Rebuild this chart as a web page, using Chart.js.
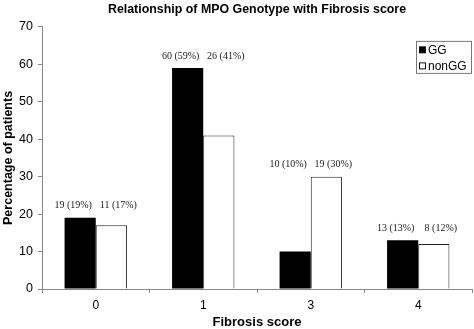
<!DOCTYPE html>
<html>
<head>
<meta charset="utf-8">
<script src="https://cdn.jsdelivr.net/npm/chart.js@4.4.1/dist/chart.umd.min.js"></script>
<style>
  html, body { margin: 0; padding: 0; background: #fff; }
  #wrap { width: 474px; height: 329px; }
</style>
</head>
<body>
<div id="wrap"><canvas id="fibrosisChart"></canvas></div>
<script>
let scores = ['0', '1', '3', '4']
let ggPct = [19, 59, 10, 13]
let nonGgPct = [17, 41, 30, 12]
let ggCount = [19, 60, 10, 13]
let nonGgCount = [11, 26, 19, 8]
let yTicks = [0, 10, 20, 30, 40, 50, 60, 70]

let sans = "'Liberation Sans', Arial, sans-serif"
let serif = "'Liberation Serif', 'Times New Roman', serif"

// count (percent) text over each pair of bars
let barLabels = {
    id: 'barLabels',
    afterDatasetsDraw(chart) {
        let ctx = chart.ctx
        let y = chart.scales.y
        let gg = chart.getDatasetMeta(0).data
        let non = chart.getDatasetMeta(1).data
        ctx.save()
        ctx.font = '10px ' + serif
        ctx.fillStyle = '#222'
        ctx.textAlign = 'center'
        ctx.textBaseline = 'middle'
        for (let i = 0; i < scores.length; i++) {
            let top = y.getPixelForValue(Math.max(ggPct[i], nonGgPct[i])) - 12
            ctx.fillText(ggCount[i] + ' (' + ggPct[i] + '%)', gg[i].x - 7, top)
            ctx.fillText(nonGgCount[i] + ' (' + nonGgPct[i] + '%)', non[i].x + 7, top)
        }
        ctx.restore()
    }
}

// boxed legend sitting inside the plot, top right
let boxLegend = {
    id: 'boxLegend',
    afterDraw(chart) {
        let ctx = chart.ctx
        let area = chart.chartArea
        let right = area.right - 1
        let left = right - 55
        let top = area.top + 14.5
        ctx.save()
        ctx.strokeStyle = '#777'
        ctx.lineWidth = 1
        ctx.strokeRect(left + 0.5, top, 55, 32)
        ctx.font = '12px ' + sans
        ctx.textBaseline = 'middle'
        let items = chart.data.datasets
        items.forEach((ds, k) => {
            let cy = top + 8.5 + k * 16
            ctx.fillStyle = ds.backgroundColor
            ctx.fillRect(left + 3.5, cy - 3, 6, 6)
            ctx.strokeStyle = '#111'
            ctx.strokeRect(left + 3.5, cy - 3, 6, 6)
            ctx.fillStyle = '#000'
            ctx.fillText(ds.label, left + 12, cy + 0.5)
        })
        ctx.restore()
    }
}

let ctx = document.querySelector('#fibrosisChart').getContext('2d')

let fibrosisChart = new Chart(ctx, {
    type: 'bar',
    data: {
        labels: scores,
        datasets: [
            {
                label: 'GG',
                data: ggPct,
                backgroundColor: '#000',
                borderColor: '#000',
                borderWidth: 0,
                categoryPercentage: 0.58,
                barPercentage: 1.0
            },
            {
                label: 'nonGG',
                data: nonGgPct,
                backgroundColor: '#fff',
                borderColor: '#222',
                borderWidth: 1,
                categoryPercentage: 0.58,
                barPercentage: 1.0
            }
        ]
    },
    options: {
        responsive: true,
        maintainAspectRatio: false,
        animation: false,
        layout: { padding: { top: 0, right: 2, left: 0, bottom: 0 } },
        plugins: {
            legend: { display: false },
            tooltip: { enabled: false },
            title: {
                display: true,
                fullSize: false,
                text: 'Relationship of MPO Genotype with Fibrosis score',
                color: '#000',
                font: { family: sans, size: 12.4, weight: 'bold', lineHeight: 1.2 },
                padding: { top: 2, bottom: 10 }
            }
        },
        scales: {
            x: {
                grid: {
                    offset: true,
                    drawOnChartArea: false,
                    drawTicks: true,
                    tickLength: 4,
                    color: '#888'
                },
                border: { color: '#888', width: 1 },
                ticks: {
                    color: '#000',
                    padding: 5,
                    font: { family: sans, size: 12 }
                },
                title: {
                    display: true,
                    text: 'Fibrosis score',
                    color: '#000',
                    font: { family: sans, size: 13, weight: 'bold', lineHeight: 1 },
                    padding: { top: 0, bottom: 0 }
                },
                afterFit(scale) { scale.height = 40 }
            },
            y: {
                min: 0,
                max: 70,
                afterBuildTicks(scale) {
                    scale.ticks = yTicks.map(v => ({ value: v }))
                },
                grid: {
                    drawOnChartArea: false,
                    drawTicks: true,
                    tickLength: 4,
                    color: '#888'
                },
                border: { color: '#888', width: 1 },
                ticks: {
                    color: '#000',
                    padding: 5,
                    font: { family: sans, size: 12.5 }
                },
                title: {
                    display: true,
                    text: 'Percentage of patients',
                    color: '#000',
                    font: { family: sans, size: 12.5, weight: 'bold', lineHeight: 1.2 },
                    padding: { top: 1, bottom: 0 }
                },
                afterFit(scale) { scale.width = 42 }
            }
        }
    },
    plugins: [barLabels, boxLegend]
})
</script>
</body>
</html>
